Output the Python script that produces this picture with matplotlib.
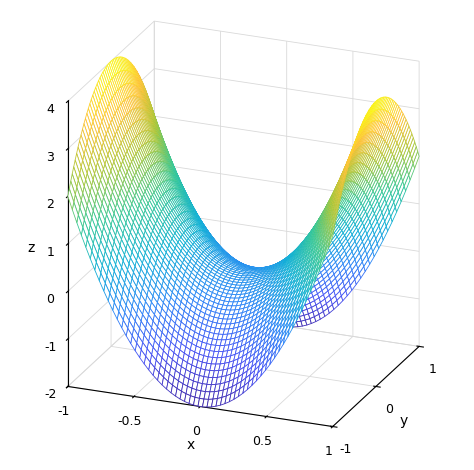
import numpy as np
import matplotlib
matplotlib.use("Agg")
import matplotlib.pyplot as plt
from matplotlib.colors import LinearSegmentedColormap

# surface z = a*x^2 + b*y^2
a_coef = 4.0
b_coef = -2.0
n_grid = 60
pt = (0.0, 0.0, 0.0)
xticks = [-1, -0.5, 0, 0.5, 1]
yticks = [-1, 0, 1]
zticks = [-2, -1, 0, 1, 2, 3, 4]

parula = LinearSegmentedColormap.from_list("parula", [
    (0.2422, 0.1504, 0.6603), (0.2810, 0.3228, 0.9579), (0.1786, 0.5289, 0.9682),
    (0.0689, 0.6948, 0.8394), (0.2161, 0.7843, 0.5923), (0.6720, 0.7793, 0.2227),
    (0.9970, 0.7659, 0.2199), (0.9769, 0.9839, 0.0805)])

x = np.linspace(-1, 1, n_grid)
X, Y = np.meshgrid(x, x)
Z = a_coef * X**2 + b_coef * Y**2

fig = plt.figure(figsize=(4.74, 4.70), dpi=100)
ax = fig.add_axes([-0.04, 0.0, 1.08, 1.02], projection='3d')
ax.set_proj_type('ortho')
zc = (Z[:-1, :-1] + Z[1:, 1:] + Z[:-1, 1:] + Z[1:, :-1]) / 4
norm = plt.Normalize(-2, 4)
ec = parula(norm(zc)).reshape(-1, 4)
surf = ax.plot_surface(X, Y, Z, color='white', shade=False, linewidth=0.6,
                       rstride=1, cstride=1, antialiased=True)
surf.set_edgecolor(ec)
ax.scatter([pt[0]], [pt[1]], [pt[2]], color=(0.85, 0.33, 0.1), s=12, depthshade=False, zorder=10)
ax.view_init(elev=22, azim=-68)
ax.set_xlim(-1, 1); ax.set_ylim(-1, 1); ax.set_zlim(-2, 4)
ax.set_xticks(xticks); ax.set_yticks(yticks); ax.set_zticks(zticks)
ax.set_xticklabels(['-1', '-0.5', '0', '0.5', '1'])
ax.set_yticklabels(['-1', '0', '1'])
ax.set_zticklabels(['-2', '-1', '0', '1', '2', '3', '4'])
ax.zaxis.set_ticks_position('lower')
ax.zaxis.set_label_position('lower')
ax.set_xlabel('x', labelpad=-2); ax.set_ylabel('y', labelpad=-2); ax.set_zlabel('z', labelpad=-2)
for axis in (ax.xaxis, ax.yaxis, ax.zaxis):
    axis.set_pane_color((1, 1, 1, 1))
    axis._axinfo['grid']['color'] = (0.85, 0.85, 0.85, 1)
    axis._axinfo['grid']['linewidth'] = 0.6
ax.tick_params(labelsize=9, pad=1)
ax.set_box_aspect((1.3, 1.05, 1.4), zoom=0.97)
fig.savefig('out.png', dpi=100)
